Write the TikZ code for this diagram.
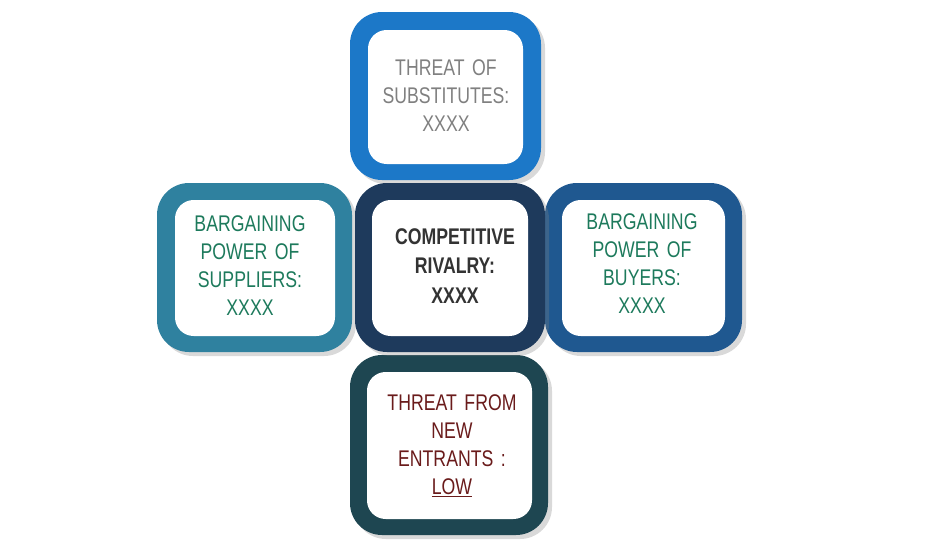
\documentclass[tikz,border=0pt]{standalone}
\usepackage{fontspec}
\setmainfont{Liberation Sans}[FakeStretch=0.78]
\usetikzlibrary{shadows}
\definecolor{cTop}{HTML}{1C78C8}
\definecolor{cLeft}{HTML}{2F819F}
\definecolor{cMid}{HTML}{1E3A5C}
\definecolor{cRight}{HTML}{1F5890}
\definecolor{cBot}{HTML}{1E4651}
\definecolor{tGrey}{HTML}{808080}
\definecolor{tGreen}{HTML}{1D7A5C}
\definecolor{tDark}{HTML}{333333}
\definecolor{tRed}{HTML}{6A1B1B}
\tikzset{
  outerbox/.style={rounded corners=24, drop shadow={shadow xshift=3pt,shadow yshift=-3pt,opacity=0.3}},
  innerbox/.style={fill=white, rounded corners=14},
  lbl/.style={align=center, font=\fontsize{17}{21}\selectfont, text width=120pt}
}
\begin{document}
\begin{tikzpicture}[x=0.75pt,y=-0.75pt]
\useasboundingbox (0,0) rectangle (940,550);
\fill[cTop,outerbox] (350,12) rectangle (541,180);
\fill[innerbox] (368,30) rectangle (523,164);
\fill[cLeft,outerbox] (157,183) rectangle (352,352);
\fill[innerbox] (175,200) rectangle (335,336);
\fill[cRight,outerbox] (545,183) rectangle (742,352);
\fill[innerbox] (562,200) rectangle (725,336);
\fill[cBot,outerbox] (350,355) rectangle (548,535);
\fill[innerbox] (367,372) rectangle (532,519);
\fill[cMid,outerbox] (355,183) rectangle (545,352);
\fill[innerbox] (372,200) rectangle (528,336);
\node[lbl,text=tGrey] (top) at (446,96) {THREAT OF\\SUBSTITUTES:\\XXXX};
\node[lbl,text=tGreen] (left) at (250,266) {BARGAINING\\POWER OF\\SUPPLIERS:\\XXXX};
\node[lbl,text=tGreen] (right) at (642,264) {BARGAINING\\POWER OF\\BUYERS:\\XXXX};
\node[lbl,text=tDark,font=\fontsize{17}{22}\selectfont\bfseries] (mid) at (455,266) {COMPETITIVE\\RIVALRY:\\XXXX};
\node[lbl,text=tRed] (bot) at (452,446) {THREAT FROM\\NEW\\ENTRANTS :\\\underline{LOW}};
\end{tikzpicture}
\end{document}
